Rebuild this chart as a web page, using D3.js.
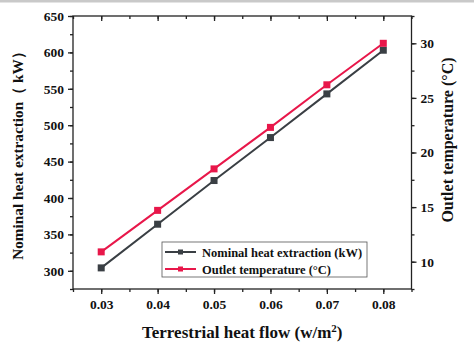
<!DOCTYPE html>
<html><head><meta charset="utf-8">
<script src="https://cdn.jsdelivr.net/npm/d3@7"></script>
<style>body{margin:0;background:#fff}svg{display:block}text{font-family:"Liberation Serif","Times New Roman",serif;font-weight:bold;fill:#111}</style>
</head><body>
<script>
const heatFlow = [0.03, 0.04, 0.05, 0.06, 0.07, 0.08];
const heatExtraction = [304, 364, 424, 483, 543, 603];
const outletTemp = [10.9, 14.7, 18.5, 22.3, 26.2, 30.0];
const xTicks = [0.03, 0.04, 0.05, 0.06, 0.07, 0.08];
const yLeftTicks = [300, 350, 400, 450, 500, 550, 600, 650];
const yRightTicks = [10, 15, 20, 25, 30];
const seriesNames = ["Nominal heat extraction (kW)", "Outlet temperature (°C)"];
const colors = ["#3a3f44", "#e8174a"];

const W = 474, H = 359;
const m = {l: 73, r: 411.5, t: 16, b: 289};
const svg = d3.select("body").append("svg").attr("width", W).attr("height", H);
svg.append("rect").attr("x",0).attr("y",0).attr("width",W).attr("height",2.5).attr("fill","#c9c9c9");

const x = d3.scaleLinear().domain([0.025, 0.085]).range([m.l, m.r]);
const yL = d3.scaleLinear().domain([275, 650]).range([m.b, m.t]);
const yR = d3.scaleLinear().domain([7.5, 32.5]).range([m.b, m.t]);

const axisColor = "#222";
function styleAxis(g){ g.selectAll("path,line").attr("stroke", axisColor).attr("stroke-width", 1.3); g.select(".domain").remove(); g.selectAll("text").style("font-size","13.5px").attr("fill","#111"); }

const xMinor = d3.range(0.025, 0.0851, 0.005);
const yLMinor = d3.range(275, 651, 25);
const yRMinor = d3.range(7.5, 32.6, 2.5);

svg.append("g").attr("transform",`translate(0,${m.b})`).call(d3.axisBottom(x).tickValues(xMinor).tickSize(3).tickFormat("")).call(styleAxis);
svg.append("g").attr("transform",`translate(0,${m.b})`).call(d3.axisBottom(x).tickValues(xTicks).tickSize(5).tickPadding(5).tickFormat(d3.format(".2f"))).call(styleAxis);
svg.append("g").attr("transform",`translate(0,${m.t})`).call(d3.axisBottom(x).tickValues(xMinor).tickSize(3).tickFormat("")).call(styleAxis);
svg.append("g").attr("transform",`translate(0,${m.t})`).call(d3.axisBottom(x).tickValues(xTicks).tickSize(5).tickFormat("")).call(styleAxis);
svg.append("g").attr("transform",`translate(${m.l},0)`).call(d3.axisLeft(yL).tickValues(yLMinor).tickSize(3).tickFormat("")).call(styleAxis);
svg.append("g").attr("transform",`translate(${m.l},0)`).call(d3.axisLeft(yL).tickValues(yLeftTicks).tickSize(5).tickPadding(4)).call(styleAxis);
svg.append("g").attr("transform",`translate(${m.r},0)`).call(d3.axisRight(yR).tickValues(yRMinor).tickSize(3).tickFormat("")).call(styleAxis);
svg.append("g").attr("transform",`translate(${m.r},0)`).call(d3.axisRight(yR).tickValues(yRightTicks).tickSize(5).tickPadding(4)).call(styleAxis);

svg.append("rect").attr("x",m.l).attr("y",m.t).attr("width",m.r-m.l).attr("height",m.b-m.t).attr("fill","none").attr("stroke",axisColor).attr("stroke-width",1.3);

const s1 = heatFlow.map((d,i)=>[x(d), yL(heatExtraction[i])]);
const s2 = heatFlow.map((d,i)=>[x(d), yR(outletTemp[i])]);
[[s1,colors[0]],[s2,colors[1]]].forEach(([pts,c])=>{
  svg.append("path").attr("d", d3.line()(pts)).attr("fill","none").attr("stroke",c).attr("stroke-width",2);
  svg.selectAll(null).data(pts).enter().append("rect").attr("x",d=>d[0]-3.5).attr("y",d=>d[1]-3.5).attr("width",7).attr("height",7).attr("fill",c);
});

const lg = svg.append("g");
lg.append("rect").attr("x",162).attr("y",242).attr("width",205).attr("height",35).attr("fill","#fff").attr("stroke","#555").attr("stroke-width",0.8);
seriesNames.forEach((n,i)=>{
  const yy = 252 + i*17;
  lg.append("line").attr("x1",165).attr("x2",196).attr("y1",yy).attr("y2",yy).attr("stroke",colors[i]).attr("stroke-width",2);
  lg.append("rect").attr("x",178).attr("y",yy-2.5).attr("width",5).attr("height",5).attr("fill",colors[i]);
  lg.append("text").attr("x",202).attr("y",yy+4.5).style("font-size","12.5px").text(n);
});

const xt = svg.append("text").attr("x",(m.l+m.r)/2).attr("y",338).attr("text-anchor","middle").style("font-size","17px");
xt.append("tspan").text("Terrestrial heat flow (w/m");
xt.append("tspan").attr("dy",-6).style("font-size","11px").text("2");
xt.append("tspan").attr("dy",6).text(")");
svg.append("text").attr("transform",`translate(23,152) rotate(-90)`).attr("text-anchor","middle").style("font-size","15.3px").text("Nominal heat extraction（ kW）");
svg.append("text").attr("transform",`translate(453,140) rotate(-90)`).attr("text-anchor","middle").style("font-size","16px").text("Outlet temperature (°C)");
</script>
</body></html>
